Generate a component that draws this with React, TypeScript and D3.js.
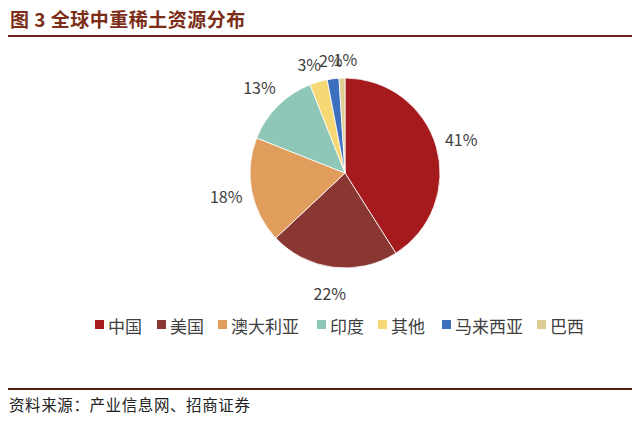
import React from "react";
import * as d3 from "d3";

const categories = ["中国", "美国", "澳大利亚", "印度", "其他", "马来西亚", "巴西"];
const values = [41, 22, 18, 13, 3, 2, 1];
const labels = ["41%", "22%", "18%", "13%", "3%", "2%", "1%"];
const colors = ["#a51b1d", "#8a3733", "#e09d5c", "#8ec6b7", "#f6d874", "#3d6fbf", "#dccd92"];
const title = "图 3  全球中重稀土资源分布";
const source = "资料来源：产业信息网、招商证券";

const W = 640, H = 423;
const cx = 345, cy = 173, R = 95;

export default function App() {
  const pie = d3.pie<number>().sort(null).value((d) => d)(values);
  const arc = d3.arc<d3.PieArcDatum<number>>().innerRadius(0).outerRadius(R);
  const labelArc = d3.arc<d3.PieArcDatum<number>>().innerRadius(R + 26).outerRadius(R + 26);
  const smallArc = d3.arc<d3.PieArcDatum<number>>().innerRadius(R + 19).outerRadius(R + 19);
  const legendX = [95, 157, 218, 317, 378, 442, 537];
  const font = "'Noto Sans CJK SC', 'Noto Sans', sans-serif";
  return (
    <svg width={W} height={H} style={{ position: "absolute", left: 0, top: 0, background: "#fff" }}>
      <text x={10} y={27} fontFamily={font} fontWeight="bold" fontSize={19} letterSpacing={0.5} fill="#7b2d17">{title}</text>
      <line x1={8} x2={632} y1={36} y2={36} stroke="#6b1e1c" strokeWidth={2} />
      <g transform={`translate(${cx},${cy})`}>
        {pie.map((p, i) => (
          <path key={i} d={arc(p) || ""} fill={colors[i]} stroke="#fff" strokeWidth={0.8} />
        ))}
        {pie.map((p, i) => {
          const [x, y] = (p.value < 5 ? smallArc : labelArc).centroid(p);
          const dx = p.value < 5 ? (p.value - 2) * -4 : 0;
          return (
            <text key={"l" + i} x={x + dx} y={y} textAnchor="middle" dominantBaseline="central"
              fontFamily={font} fontSize={16} fill="#404040">{labels[i]}</text>
          );
        })}
      </g>
      {categories.map((c, i) => (
        <g key={"g" + i}>
          <rect x={legendX[i]} y={320} width={9} height={9} fill={colors[i]} />
          <text x={legendX[i] + 13} y={325} dominantBaseline="central" fontFamily={font} fontSize={17} fill="#404040">{c}</text>
        </g>
      ))}
      <line x1={8} x2={632} y1={389} y2={389} stroke="#5a1e16" strokeWidth={2} />
      <text x={9} y={411} fontFamily={font} fontSize={15.5} letterSpacing={0.6} fill="#222">{source}</text>
    </svg>
  );
}
